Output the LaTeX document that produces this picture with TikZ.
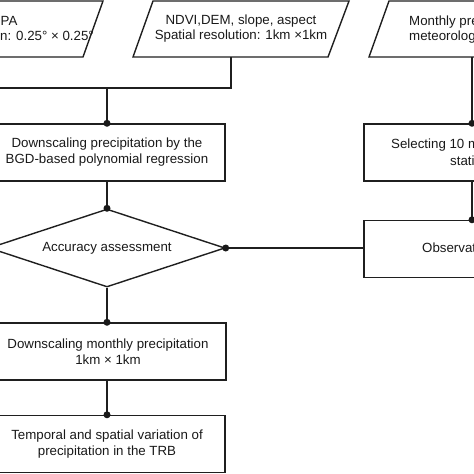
\documentclass[tikz,border=0pt]{standalone}
\usepackage{fontspec}
\setmainfont{Liberation Sans}
\usetikzlibrary{shapes.geometric,calc}
\begin{document}
\begin{tikzpicture}[x=1pt,y=-1pt,
  every node/.style={font=\fontsize{13.3}{16}\selectfont, text=black!90},
  box/.style={draw=black!88, line width=1.4pt, minimum width=236pt, minimum height=57pt, inner sep=0pt, align=center},
  dia/.style={diamond, draw=black!88, line width=1.4pt, minimum width=236pt, minimum height=78pt, aspect=3, inner sep=0pt},
  para/.style={draw=black!88, line width=1.4pt, line join=miter},
  conn/.style={draw=black!88, line width=1.4pt},
  dot/.style={circle, fill=black!90, inner sep=0pt, minimum size=7pt},
  lbl/.style={anchor=base west, inner sep=0pt}
]
\useasboundingbox (0,0) rectangle (474,474);
\clip (0,0) rectangle (474,474);

% input parallelograms
\draw[para] (-93,1) -- (103,1) -- (83,57) -- (-113,57) -- cycle;
\draw[para] (153,1) -- (349,1) -- (328,57) -- (133,57) -- cycle;
\draw[para] (389,1) -- (585,1) -- (564,57) -- (369,57) -- cycle;
\node[lbl] (t1a) at (0.5,25.5) {PA};
\node[lbl] (t1b) at (0,40.5) {n: 0.25° × 0.25°};
\node[align=center, inner sep=0pt, font=\fontsize{13.3}{15}\selectfont] (t2) at (241,29) {NDVI,DEM, slope, aspect\\Spatial resolution: 1km ×1km};
\node[lbl] (t3a) at (409,25.5) {Monthly pre};
\node[lbl] (t3b) at (409,40.5) {meteorolog};

% left column
\node[box] (b1) at (107,152.5) {Downscaling precipitation by the\\BGD-based polynomial regression};
\node[dia] (d) at (107,248) {Accuracy assessment};
\node[box] (b3) at (108,351.5) {Downscaling monthly precipitation\\1km × 1km};
\node[box] (b4) at (107,444) {Temporal and spatial variation of\\precipitation in the TRB};

% right column
\node[box] (sel) at (482,152.5) {};
\node[box] (obs) at (482,249) {};
\node[lbl] (sela) at (391,148) {Selecting 10 m};
\node[lbl] (selb) at (450,165) {stati};
\node[lbl] (obst) at (422,252.5) {Observat};

% connectors
\coordinate (p1b) at (-15,57);
\coordinate (p2b) at (231,57);
\coordinate (p3b) at (472,57);
\coordinate (m) at (107,88);
\draw[conn] (p1b) -- (p1b |- m) -- (p2b |- m) -- (p2b);
\draw[conn] (m) -- (b1.north);
\node[dot] (j1) at (b1.north) {};
\draw[conn] (b1.south) -- (d.north);
\node[dot] (j2) at (d.north) {};
\draw[conn] (d.south) -- (b3.north -| d.south);
\node[dot] (j3) at (b3.north -| d.south) {};
\draw[conn] (b3.south -| d.south) -- (b4.north);
\node[dot] (j4) at (b4.north) {};
\draw[conn] (d.east) -- (d.east -| obs.west);
\node[dot] (j5) at (d.east) {};
\draw[conn] (p3b) -- (p3b |- sel.north);
\node[dot] (j6) at (p3b |- sel.north) {};
\draw[conn] (p3b |- sel.south) -- (p3b |- obs.north);
\node[dot] (j7) at (p3b |- obs.north) {};
\end{tikzpicture}
\end{document}
